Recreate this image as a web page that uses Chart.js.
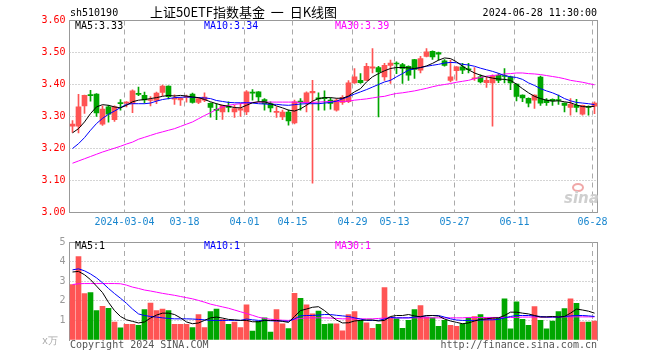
<!DOCTYPE html>
<html>
<head>
<meta charset="utf-8">
<script src="https://cdn.jsdelivr.net/npm/chart.js@4.4.1/dist/chart.umd.min.js"></script>
<style>
  body { margin: 0; background: #fff; }
  #wrap { position: relative; width: 660px; height: 360px; overflow: hidden; font-family: 'DejaVu Sans Mono', monospace; font-size: 10px; }
  canvas { position: absolute; left: 0; }
  .t { position: absolute; white-space: pre; line-height: 12px; }
</style>
</head>
<body>
<div id="wrap">
  <canvas id="kline" width="660" height="232" style="top:0"></canvas>
  <canvas id="vol" width="660" height="128" style="top:232px"></canvas>

  <div class="t" style="left:70px;top:7px;color:#000">sh510190</div>
  <div class="t" style="left:150px;top:4px;font-family:'Noto Sans CJK SC';font-size:13px;line-height:15px;color:#000">上证50ETF指数基金  一  日K线图</div>
  <div class="t" style="right:63px;top:7px;color:#000">2024-06-28 11:30:00</div>

  <div class="t" style="left:75px;top:20px;color:#000">MA5:3.33</div>
  <div class="t" style="left:204px;top:20px;color:#0000ff">MA10:3.34</div>
  <div class="t" style="left:335px;top:20px;color:#ff00ff">MA30:3.39</div>

  <div class="t" style="left:75px;top:240px;color:#000">MA5:1</div>
  <div class="t" style="left:204px;top:240px;color:#0000ff">MA10:1</div>
  <div class="t" style="left:335px;top:240px;color:#ff00ff">MA30:1</div>

  <div class="t" style="left:42px;top:335px;color:#aaa">x万</div>
  <div class="t" style="left:70px;top:339px;color:#555">Copyright 2024 SINA.COM</div>
  <div class="t" style="right:63px;top:339px;color:#555">http://finance.sina.com.cn</div>

  <div style="position:absolute;left:572px;top:183px;width:8px;height:5px;border:2px solid #f0a8a8;border-radius:50%"></div>
  <div class="t" style="left:564px;top:190px;font-family:'DejaVu Sans';font-weight:bold;font-style:italic;font-size:15px;line-height:16px;color:#cfcfcf">sina</div>
</div>
<script>
// trading days shown on the chart
const dates = [
  '2024-02-20','2024-02-21','2024-02-22','2024-02-23','2024-02-26','2024-02-27','2024-02-28','2024-02-29',
  '2024-03-01','2024-03-04','2024-03-05','2024-03-06','2024-03-07','2024-03-08','2024-03-11','2024-03-12',
  '2024-03-13','2024-03-14','2024-03-15','2024-03-18','2024-03-19','2024-03-20','2024-03-21','2024-03-22',
  '2024-03-25','2024-03-26','2024-03-27','2024-03-28','2024-03-29','2024-04-01','2024-04-02','2024-04-03',
  '2024-04-08','2024-04-09','2024-04-10','2024-04-11','2024-04-12','2024-04-15','2024-04-16','2024-04-17',
  '2024-04-18','2024-04-19','2024-04-22','2024-04-23','2024-04-24','2024-04-25','2024-04-26','2024-04-29',
  '2024-04-30','2024-05-06','2024-05-07','2024-05-08','2024-05-09','2024-05-10','2024-05-13','2024-05-14',
  '2024-05-15','2024-05-16','2024-05-17','2024-05-20','2024-05-21','2024-05-22','2024-05-23','2024-05-24',
  '2024-05-27','2024-05-28','2024-05-29','2024-05-30','2024-05-31','2024-06-03','2024-06-04','2024-06-05',
  '2024-06-06','2024-06-07','2024-06-11','2024-06-12','2024-06-13','2024-06-14','2024-06-17','2024-06-18',
  '2024-06-19','2024-06-20','2024-06-21','2024-06-24','2024-06-25','2024-06-26','2024-06-27','2024-06-28'
];

const open = [
  3.270, 3.270, 3.333, 3.368, 3.370, 3.276, 3.330, 3.290, 3.342, 3.342,
  3.340, 3.372, 3.366, 3.350, 3.350, 3.375, 3.395, 3.354, 3.352, 3.360,
  3.370, 3.344, 3.351, 3.341, 3.321, 3.314, 3.332, 3.314, 3.320, 3.314,
  3.376, 3.377, 3.353, 3.340, 3.313, 3.299, 3.314, 3.280, 3.348, 3.343,
  3.374, 3.358, 3.358, 3.351, 3.320, 3.344, 3.346, 3.405, 3.413, 3.413,
  3.451, 3.453, 3.424, 3.460, 3.467, 3.462, 3.457, 3.478, 3.445, 3.488,
  3.504, 3.500, 3.474, 3.413, 3.443, 3.455, 3.449, 3.418, 3.424, 3.406,
  3.405, 3.429, 3.428, 3.424, 3.401, 3.367, 3.357, 3.351, 3.423, 3.351,
  3.354, 3.352, 3.342, 3.328, 3.335, 3.307, 3.332, 3.332
];
const high = [
  3.287, 3.369, 3.367, 3.382, 3.372, 3.333, 3.335, 3.333, 3.353, 3.347,
  3.383, 3.392, 3.376, 3.362, 3.376, 3.398, 3.396, 3.368, 3.360, 3.367,
  3.373, 3.360, 3.374, 3.343, 3.340, 3.336, 3.346, 3.335, 3.340, 3.381,
  3.384, 3.378, 3.356, 3.346, 3.330, 3.320, 3.320, 3.351, 3.356, 3.377,
  3.413, 3.374, 3.380, 3.358, 3.356, 3.365, 3.412, 3.450, 3.434, 3.466,
  3.512, 3.457, 3.466, 3.476, 3.471, 3.466, 3.458, 3.479, 3.488, 3.512,
  3.505, 3.501, 3.478, 3.476, 3.456, 3.466, 3.466, 3.453, 3.430, 3.424,
  3.430, 3.434, 3.450, 3.426, 3.402, 3.368, 3.358, 3.368, 3.426, 3.356,
  3.355, 3.367, 3.343, 3.356, 3.354, 3.336, 3.333, 3.346
];
const low = [
  3.250, 3.249, 3.310, 3.348, 3.300, 3.272, 3.282, 3.285, 3.320, 3.330,
  3.312, 3.365, 3.342, 3.333, 3.340, 3.365, 3.355, 3.338, 3.335, 3.345,
  3.342, 3.340, 3.346, 3.298, 3.290, 3.291, 3.314, 3.297, 3.300, 3.306,
  3.351, 3.346, 3.320, 3.314, 3.297, 3.290, 3.273, 3.277, 3.320, 3.314,
  3.092, 3.320, 3.320, 3.323, 3.317, 3.338, 3.343, 3.403, 3.403, 3.412,
  3.436, 3.299, 3.413, 3.403, 3.434, 3.403, 3.413, 3.419, 3.436, 3.486,
  3.478, 3.476, 3.457, 3.408, 3.413, 3.434, 3.436, 3.413, 3.405, 3.391,
  3.270, 3.406, 3.405, 3.384, 3.349, 3.346, 3.330, 3.325, 3.335, 3.335,
  3.335, 3.338, 3.314, 3.304, 3.314, 3.304, 3.304, 3.309
];
const close = [
  3.276, 3.330, 3.366, 3.365, 3.311, 3.323, 3.307, 3.330, 3.340, 3.345,
  3.380, 3.369, 3.352, 3.353, 3.373, 3.395, 3.362, 3.356, 3.357, 3.363,
  3.344, 3.356, 3.361, 3.328, 3.319, 3.335, 3.328, 3.325, 3.325, 3.377,
  3.373, 3.361, 3.340, 3.327, 3.316, 3.314, 3.286, 3.346, 3.344, 3.374,
  3.379, 3.355, 3.356, 3.341, 3.351, 3.360, 3.405, 3.424, 3.406, 3.457,
  3.455, 3.439, 3.460, 3.467, 3.464, 3.450, 3.429, 3.447, 3.481, 3.502,
  3.486, 3.495, 3.460, 3.424, 3.455, 3.445, 3.446, 3.420, 3.408, 3.413,
  3.426, 3.413, 3.425, 3.405, 3.363, 3.358, 3.342, 3.367, 3.342, 3.343,
  3.349, 3.350, 3.335, 3.338, 3.328, 3.335, 3.328, 3.342
];

const ma5 = [
  3.249, 3.262, 3.283, 3.309, 3.330, 3.337, 3.335, 3.330, 3.327, 3.335,
  3.346, 3.351, 3.353, 3.356, 3.359, 3.363, 3.366, 3.364, 3.366, 3.364,
  3.361, 3.359, 3.353, 3.346, 3.340, 3.335, 3.332, 3.328, 3.327, 3.335,
  3.343, 3.346, 3.346, 3.340, 3.333, 3.327, 3.320, 3.317, 3.324, 3.335,
  3.348, 3.356, 3.359, 3.359, 3.357, 3.357, 3.364, 3.377, 3.387, 3.408,
  3.424, 3.434, 3.443, 3.450, 3.453, 3.453, 3.452, 3.450, 3.453, 3.458,
  3.466, 3.476, 3.483, 3.481, 3.471, 3.457, 3.446, 3.436, 3.429, 3.424,
  3.420, 3.417, 3.416, 3.413, 3.401, 3.387, 3.374, 3.363, 3.356, 3.351,
  3.348, 3.349, 3.346, 3.343, 3.336, 3.331, 3.330, 3.332
];
const ma10 = [
  3.200, 3.215, 3.234, 3.257, 3.278, 3.294, 3.307, 3.317, 3.328, 3.338,
  3.340, 3.340, 3.340, 3.342, 3.348, 3.353, 3.356, 3.359, 3.360, 3.361,
  3.360, 3.359, 3.358, 3.356, 3.350, 3.347, 3.344, 3.343, 3.343, 3.343,
  3.342, 3.340, 3.339, 3.338, 3.338, 3.336, 3.335, 3.337, 3.339, 3.340,
  3.340, 3.340, 3.342, 3.344, 3.348, 3.355, 3.362, 3.370, 3.377, 3.384,
  3.392, 3.400, 3.408, 3.413, 3.424, 3.434, 3.445, 3.449, 3.453, 3.457,
  3.460, 3.463, 3.467, 3.469, 3.468, 3.463, 3.461, 3.457, 3.451, 3.446,
  3.441, 3.435, 3.428, 3.424, 3.422, 3.416, 3.405, 3.397, 3.387, 3.380,
  3.374, 3.366, 3.356, 3.349, 3.344, 3.342, 3.340, 3.337
];
const ma30 = [
  3.154, 3.161, 3.168, 3.175, 3.182, 3.189, 3.195, 3.201, 3.207, 3.214,
  3.220, 3.229, 3.235, 3.241, 3.247, 3.252, 3.257, 3.262, 3.269, 3.276,
  3.283, 3.293, 3.303, 3.312, 3.322, 3.330, 3.335, 3.338, 3.340, 3.343,
  3.344, 3.345, 3.345, 3.345, 3.345, 3.345, 3.345, 3.345, 3.344, 3.344,
  3.344, 3.345, 3.346, 3.347, 3.347, 3.347, 3.348, 3.351, 3.353, 3.355,
  3.358, 3.361, 3.363, 3.368, 3.372, 3.374, 3.377, 3.380, 3.384, 3.388,
  3.393, 3.397, 3.400, 3.403, 3.407, 3.410, 3.413, 3.418, 3.422, 3.426,
  3.428, 3.430, 3.433, 3.434, 3.436, 3.436, 3.434, 3.433, 3.431, 3.428,
  3.425, 3.422, 3.418, 3.413, 3.410, 3.407, 3.403, 3.399
];

// volume, in units of 10k (x万)
const volume = [
  2.83, 4.25, 2.37, 2.42, 1.50, 1.72, 1.62, 0.92, 0.62, 0.80,
  0.80, 0.75, 1.55, 1.88, 1.50, 1.58, 1.50, 0.80, 0.80, 0.80,
  0.63, 1.30, 0.63, 1.45, 1.58, 1.05, 0.80, 0.92, 0.63, 1.80,
  0.45, 0.95, 1.13, 0.40, 1.55, 0.83, 0.58, 2.38, 2.13, 1.80,
  1.33, 1.47, 0.80, 0.83, 0.83, 0.47, 1.30, 1.45, 1.00, 0.87,
  0.60, 0.80, 2.67, 1.17, 1.08, 0.60, 1.00, 1.55, 1.75, 1.17,
  1.13, 0.70, 1.00, 0.75, 0.70, 0.83, 1.13, 1.20, 1.30, 1.13,
  1.13, 1.13, 2.10, 0.57, 1.95, 1.05, 0.75, 1.70, 1.00, 0.57,
  0.97, 1.45, 1.60, 2.10, 1.87, 0.92, 0.92, 0.97
];
const volMa5 = [
  3.47, 3.50, 3.33, 3.08, 2.75, 2.42, 1.92, 1.50, 1.20, 1.03,
  0.95, 0.87, 0.92, 1.12, 1.27, 1.37, 1.37, 1.30, 1.13, 0.92,
  0.83, 0.87, 1.00, 1.13, 1.17, 1.12, 1.05, 1.03, 1.00, 1.00,
  0.93, 0.93, 1.00, 1.00, 1.00, 0.95, 0.90, 1.20, 1.50, 1.58,
  1.67, 1.70, 1.50, 1.25, 1.02, 0.87, 0.88, 0.97, 1.00, 1.02,
  1.02, 0.97, 1.00, 1.20, 1.25, 1.25, 1.30, 1.23, 1.18, 1.25,
  1.25, 1.22, 1.07, 0.97, 0.90, 0.83, 0.87, 0.97, 1.05, 1.08,
  1.12, 1.13, 1.25, 1.42, 1.42, 1.37, 1.33, 1.25, 1.17, 1.18,
  1.20, 1.17, 1.20, 1.37, 1.58, 1.53, 1.47, 1.37
];
const volMa10 = [
  3.58, 3.63, 3.53, 3.37, 3.17, 2.92, 2.63, 2.37, 2.13, 1.87,
  1.58, 1.33, 1.25, 1.20, 1.17, 1.13, 1.10, 1.08, 1.08, 1.08,
  1.07, 1.05, 1.03, 1.00, 1.00, 1.00, 1.00, 1.00, 1.00, 1.07,
  1.03, 1.00, 1.00, 0.98, 0.97, 0.97, 0.95, 1.08, 1.23, 1.25,
  1.25, 1.27, 1.30, 1.30, 1.26, 1.23, 1.20, 1.13, 1.07, 1.00,
  1.00, 1.00, 1.07, 1.15, 1.13, 1.13, 1.13, 1.17, 1.20, 1.23,
  1.25, 1.25, 1.17, 1.08, 1.02, 1.00, 1.00, 1.00, 1.02, 1.03,
  1.03, 1.05, 1.13, 1.20, 1.25, 1.25, 1.25, 1.23, 1.20, 1.17,
  1.17, 1.17, 1.20, 1.23, 1.25, 1.25, 1.23, 1.20
];
const volMa30 = [
  2.83, 2.87, 2.88, 2.88, 2.88, 2.88, 2.88, 2.88, 2.87, 2.80,
  2.70, 2.63, 2.55, 2.50, 2.44, 2.38, 2.33, 2.28, 2.22, 2.16,
  2.10, 2.02, 1.93, 1.83, 1.76, 1.69, 1.62, 1.53, 1.44, 1.35,
  1.26, 1.16, 1.10, 1.06, 1.03, 1.01, 1.00, 1.05, 1.10, 1.13,
  1.13, 1.13, 1.13, 1.12, 1.10, 1.08, 1.08, 1.08, 1.08, 1.08,
  1.08, 1.10, 1.12, 1.13, 1.13, 1.13, 1.13, 1.13, 1.13, 1.13,
  1.13, 1.13, 1.13, 1.13, 1.13, 1.13, 1.15, 1.15, 1.15, 1.15,
  1.15, 1.15, 1.15, 1.15, 1.15, 1.17, 1.17, 1.17, 1.17, 1.17,
  1.17, 1.18, 1.18, 1.18, 1.18, 1.18, 1.18, 1.18
];

const xTicks = ['2024-03-04', '03-18', '04-01', '04-15', '04-29', '05-13', '05-27', '06-11', '06-28'];
const priceTicks = [3.00, 3.10, 3.20, 3.30, 3.40, 3.50, 3.60];
const volTicks = [0, 1, 2, 3, 4, 5];

const UP = '#ff5454';
const DOWN = '#00a600';
const GRID = '#aaaaaa';
const FRAME = '#999999';
const CLEAR = 'rgba(0,0,0,0)';

const barColors = close.map((c, i) => c >= open[i] ? UP : DOWN);
const labelAt = {};
dates.forEach((d, i) => {
  const t = xTicks.find(s => s === d || s === d.slice(5));
  if (t) labelAt[i] = t;
});

// dotted value lines and dashed date lines, placed through the chart's own scales
const gridLines = {
  id: 'gridLines',
  beforeDatasetsDraw(chart, args, opts) {
    const { ctx, chartArea: a, scales: { x, y } } = chart;
    ctx.save();
    ctx.globalAlpha = 1;
    ctx.globalCompositeOperation = 'source-over';
    ctx.strokeStyle = GRID;
    ctx.lineWidth = 1;
    ctx.setLineDash([1, 2]);
    opts.values.slice(1, -1).forEach(v => {
      const py = Math.floor(y.getPixelForValue(v)) + 0.5;
      ctx.beginPath();
      ctx.moveTo(a.left, py);
      ctx.lineTo(a.right, py);
      ctx.stroke();
    });
    ctx.setLineDash([5, 4]);
    Object.keys(labelAt).forEach(k => {
      // the date line sits on the left edge of that day's candle
      const px = Math.floor(x.getPixelForValue(Number(k)) - 2) + 0.5;
      ctx.beginPath();
      ctx.moveTo(px, a.top);
      ctx.lineTo(px, a.bottom);
      ctx.stroke();
    });
    ctx.restore();
  }
};

function mono() { return { family: 'DejaVu Sans Mono', size: 10 }; }

function xScale(showLabels, h) {
  return {
    type: 'category',
    offset: true,
    grid: { offset: false, drawTicks: false, color: CLEAR },
    border: { display: showLabels, color: FRAME },
    ticks: {
      display: showLabels, autoSkip: false, maxRotation: 0, minRotation: 0,
      color: '#1a87cf', font: mono(), padding: 3.5, labelOffset: -2,
      callback: v => labelAt[v] || ''
    },
    afterFit: s => { s.height = h; }
  };
}
function yScale(ticks, color, fmt) {
  return {
    type: 'linear', position: 'left',
    min: ticks[0], max: ticks[ticks.length - 1],
    grid: { drawTicks: false, color: CLEAR },
    border: { color: FRAME },
    ticks: { stepSize: ticks[1] - ticks[0], color: color, font: mono(), padding: 4, callback: fmt },
    afterFit: s => { s.width = 69.5; }
  };
}
function frameX() {
  return {
    type: 'category', position: 'top', offset: true,
    grid: { drawTicks: false, color: CLEAR },
    border: { color: FRAME },
    ticks: { display: false },
    afterFit: s => { s.height = 0; }
  };
}
function frameY(ticks) {
  return {
    type: 'linear', position: 'right', min: ticks[0], max: ticks[ticks.length - 1],
    grid: { drawTicks: false, color: CLEAR },
    border: { color: FRAME },
    ticks: { display: false },
    afterFit: s => { s.width = 0; }
  };
}
function maLine(data, color) {
  return { type: 'line', data: data, borderColor: color, borderWidth: 1, pointRadius: 0,
    tension: 0, fill: false, order: 0, xAxisID: 'x', yAxisID: 'y' };
}
function baseOptions(padTop, ticks) {
  return {
    responsive: false,
    animation: false,
    events: [],
    plugins: { legend: { display: false }, tooltip: { enabled: false }, gridLines: { values: ticks } },
    layout: { padding: { top: padTop, right: 62.5, left: 0, bottom: 0 } }
  };
}

const klineOptions = baseOptions(20.5, priceTicks);
klineOptions.scales = {
  x: xScale(true, 19.5),
  y: yScale(priceTicks, '#ff0000', v => v.toFixed(2)),
  xTop: frameX(),
  yRight: frameY(priceTicks)
};
new Chart(document.getElementById('kline'), {
  plugins: [gridLines],
  data: {
    labels: dates,
    datasets: [
      { type: 'bar', data: low.map((l, i) => [l, high[i]]), backgroundColor: barColors,
        barThickness: 1, grouped: false, order: 2, xAxisID: 'x', yAxisID: 'y' },
      { type: 'bar', data: open.map((o, i) => [o, close[i]]), backgroundColor: barColors,
        barThickness: 5, minBarLength: 1, grouped: false, order: 1, xAxisID: 'x', yAxisID: 'y' },
      maLine(ma5, '#000000'),
      maLine(ma10, '#0000ff'),
      maLine(ma30, '#ff00ff')
    ]
  },
  options: klineOptions
});

const volOptions = baseOptions(8, volTicks);
volOptions.scales = {
  x: xScale(false, 20),
  y: yScale(volTicks, '#999999', v => v === 0 ? '' : String(v)),
  xTop: frameX(),
  yRight: frameY(volTicks)
};
new Chart(document.getElementById('vol'), {
  plugins: [gridLines],
  data: {
    labels: dates,
    datasets: [
      { type: 'bar', data: volume, backgroundColor: barColors, barThickness: 5,
        grouped: false, order: 1, xAxisID: 'x', yAxisID: 'y' },
      maLine(volMa5, '#000000'),
      maLine(volMa10, '#0000ff'),
      maLine(volMa30, '#ff00ff')
    ]
  },
  options: volOptions
});
</script>
</body>
</html>
